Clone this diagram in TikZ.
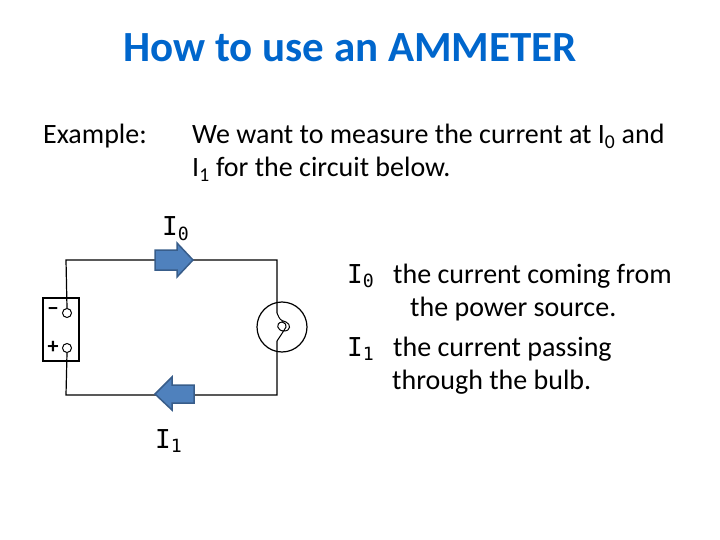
\documentclass[tikz,border=0pt]{standalone}
\usepackage{fontspec}
\setmainfont{Carlito}
\newfontfamily\monof{DejaVu Sans Mono}
\definecolor{ttl}{RGB}{0,102,204}
\definecolor{arr}{RGB}{79,129,189}
\definecolor{arrb}{RGB}{56,93,138}
\begin{document}
\begin{tikzpicture}[x=1pt,y=-1pt,
  wire/.style={line width=1.2pt},
  txt/.style={font=\fontsize{28}{33}\selectfont,anchor=base west,inner sep=0},
  lab/.style={font=\monof\fontsize{26}{29}\selectfont,inner sep=0},
  sign/.style={font=\bfseries\fontsize{22}{22}\selectfont,inner sep=0},
  flow/.style={fill=arr,draw=arrb,line width=1.5pt}]
\useasboundingbox (0,0) rectangle (720,540);
\node[font=\bfseries\fontsize{43}{46}\selectfont,text=ttl,anchor=base] (title) at (350,62) {How to use an AMMETER};
\node[txt] (ex) at (43,144) {Example:};
\node[txt] (want) at (192,144) {We want to measure the current at I\textsubscript{0} and};
\node[txt] (want2) at (192,177) {I\textsubscript{1} for the circuit below.};
% circuit
\coordinate (tl) at (66,260); \coordinate (tr) at (277,260);
\coordinate (bl) at (66,395); \coordinate (br) at (277,395);
\node[draw,line width=1.2pt,minimum width=36,minimum height=63,inner sep=0] (bat) at (61,329.5) {};
\node[draw,circle,line width=1.2pt,minimum size=50,inner sep=0] (bulb) at (282,327) {};
\node[draw,circle,line width=1pt,minimum size=9,inner sep=0] (tm) at (67,313) {};
\node[draw,circle,line width=1pt,minimum size=9,inner sep=0] (tp) at (67,348) {};
\node[sign] (minus) at (53,312) {−};
\node[sign] (plus) at (53,347) {+};
\draw[wire] (tm.north) -- (tl) -- (tr) -- (277,313);
\draw[wire] (tp.south) -- (bl) -- (br) -- (277,341);
\draw[line width=1pt] (277,313) .. controls (280,320) .. (286,322) .. controls (291,324) and (291,331) .. (284,331) .. controls (277,331) and (275,323) .. (282,322) .. controls (286,324) .. (286,327) .. controls (283,332) .. (277,341);
\draw[flow] (155,250) -- (177,250) -- (177,243) -- (193,260) -- (177,277) -- (177,270) -- (155,270) -- cycle;
\draw[flow] (194,385) -- (172,385) -- (172,377) -- (155,394) -- (172,410) -- (172,403) -- (194,403) -- cycle;
\node[lab,anchor=base west] (i0) at (162,236) {I\textsubscript{0}};
\node[lab,anchor=base west] (i1) at (155,448) {I\textsubscript{1}};
% legend
\node[lab,anchor=base west] (l0) at (347,283) {I\textsubscript{0}};
\node[lab,anchor=base west] (l1) at (347,356) {I\textsubscript{1}};
\node[txt] (d0) at (393,283) {the current coming from};
\node[txt] (d0b) at (410,316) {the power source.};
\node[txt] (d1) at (393,356) {the current passing};
\node[txt] (d1b) at (392,389) {through the bulb.};
\end{tikzpicture}
\end{document}
